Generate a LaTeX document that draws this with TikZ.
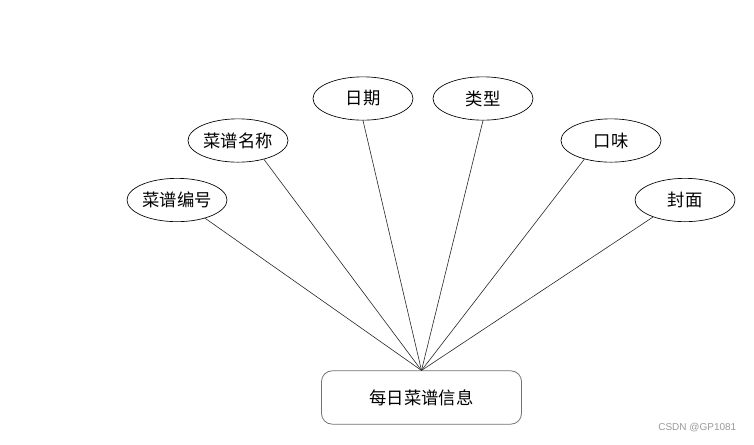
\documentclass[tikz,border=0pt]{standalone}
\usepackage{fontspec}
\setmainfont{Liberation Sans}
\newfontfamily\cjk{Noto Sans CJK SC}
\usepackage{tikz}
\usetikzlibrary{shapes.geometric,positioning}
\tikzset{
attr_item/.style={ellipse, draw, line width=0.5pt, fill=white, minimum width=75pt, minimum height=32.5pt, inner sep=0pt, font=\cjk\fontsize{13}{15}\selectfont},
entity_box/.style={rectangle, rounded corners=8pt, draw=black!55, line width=0.6pt, fill=white, minimum width=150pt, minimum height=40pt, font=\cjk\fontsize{13}{15}\selectfont},
link/.style={line width=0.45pt, black!85},
mark_text/.style={text=black!40, font=\fontsize{7.5}{9}\selectfont}
}
\begin{document}
\begin{tikzpicture}[x=0.75pt, y=-0.75pt]
    \useasboundingbox (0,0) rectangle (754,444);
    \node[entity_box] (info) at (421.5,397.5) {每日菜谱信息};
    \node[attr_item] (attr_1) at (177,200) {菜谱编号};
    \node[attr_item] (attr_2) at (238,140.5) {菜谱名称};
    \node[attr_item] (attr_3) at (363,98.5) {日期};
    \node[attr_item] (attr_4) at (483,98.5) {类型};
    \node[attr_item] (attr_5) at (611,140.5) {口味};
    \node[attr_item] (attr_6) at (685,200) {封面};
    % lines leave each ellipse a little off its centre
    \foreach \i/\a in {1/-33,2/-36,3/-90,4/-90,5/-145,6/-152}
        \draw[link] (attr_\i.\a) -- (info.north);
    \node[mark_text, anchor=east] (mark) at (741,428) {CSDN @GP1081};
\end{tikzpicture}
\end{document}
